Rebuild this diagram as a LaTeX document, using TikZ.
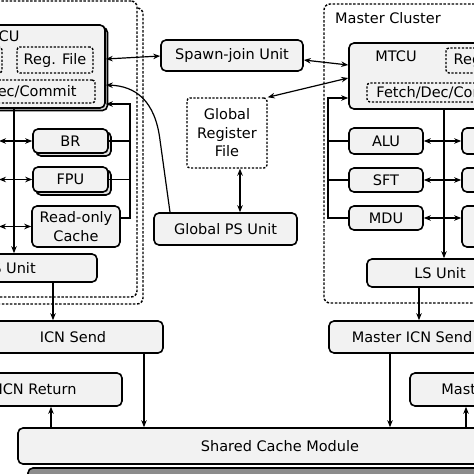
\documentclass[tikz,border=0pt]{standalone}
\usepackage{fontspec}
\setmainfont{DejaVu Sans}
\usetikzlibrary{arrows.meta,calc}
\tikzset{
 every node/.style={font=\fontsize{14.5}{18.5}\selectfont, inner sep=0pt},
 box/.style={draw=black, line width=1.6pt, rounded corners=5pt, fill=black!5, align=center},
 backbox/.style={draw=black, line width=1.6pt, rounded corners=5pt, fill=black!12},
 dbox/.style={draw=black, line width=1.4pt, dash pattern=on 2.2pt off 1.6pt, rounded corners=3pt, align=center},
 clus/.style={draw=black, line width=1.4pt, dash pattern=on 2.5pt off 1.6pt, rounded corners=6pt, fill=white},
 conn/.style={line width=1.2pt},
 arr/.style={conn, -{Stealth[length=7pt,width=5.5pt]}},
 darr/.style={conn, {Stealth[length=7pt,width=5.5pt]}-{Stealth[length=7pt,width=5.5pt]}},
}
\begin{document}
\begin{tikzpicture}[x=1pt,y=-1pt]
\useasboundingbox (0,0) rectangle (474,474);
\clip (0,0) rectangle (474,474);

% clusters
\node[clus, minimum width=287pt, minimum height=296pt] (lclustb) at (-0.5,156) {};
\node[clus, minimum width=287pt, minimum height=296pt] (lclust) at (-6.5,149) {};
\node[clus, minimum width=296pt, minimum height=299pt] (mclust) at (472,153.5) {};
\node[anchor=west] (mcl) at (335,18) {Master Cluster};

% left cluster
\node[backbox, minimum width=225pt, minimum height=83pt] (tcub) at (-5,69) {};
\node[box, minimum width=225pt, minimum height=83pt] (tcu) at (-7.5,66.5) {};
\node (tcul) at (5,36) {TCU};
\node[dbox, minimum width=42pt, minimum height=26pt] (pcb) at (-19,60) {};
\node[dbox, minimum width=76pt, minimum height=26pt] (rf) at (55,60) {Reg. File};
\node[dbox, minimum width=171pt, minimum height=23pt] (fdc) at (9.5,91.5) {Fetch/Dec/Commit};

\node[backbox, minimum width=75pt, minimum height=24pt] (brb) at (73.5,144) {};
\node[box, minimum width=75pt, minimum height=24pt] (br) at (70.5,141) {BR};
\node[backbox, minimum width=75pt, minimum height=25pt] (fpub) at (73.5,182.5) {};
\node[box, minimum width=75pt, minimum height=25pt] (fpu) at (70.5,179.5) {FPU};
\node[box, minimum width=88pt, minimum height=41pt] (roc) at (76,226.5) {Read-only\\Cache};
\node[box, minimum width=174pt, minimum height=28pt] (lsl) at (10,268) {LS Unit};

% middle
\node[box, minimum width=142pt, minimum height=31pt] (spawn) at (232,55.5) {Spawn-join Unit};
\node[dbox, fill=white, minimum width=80pt, minimum height=70pt] (grf) at (227,133) {Global\\Register\\File};
\node[box, minimum width=143pt, minimum height=32pt] (gps) at (225.5,229) {Global PS Unit};

% master cluster
\node[box, minimum width=251pt, minimum height=66pt] (mtcu) at (474.5,76) {};
\node (mtcul) at (396,56) {MTCU};
\node[dbox, minimum width=78pt, minimum height=25pt] (mrf) at (485,60.5) {Reg. File};
\node[dbox, minimum width=153pt, minimum height=19pt] (mfdc) at (443.5,92.5) {Fetch/Dec/Commit};
\node[box, minimum width=74pt, minimum height=26pt] (alu) at (386,141) {ALU};
\node[box, minimum width=74pt, minimum height=24pt] (sft) at (386,180) {SFT};
\node[box, minimum width=74pt, minimum height=24pt] (mdu) at (386,218) {MDU};
\node[box, minimum width=78pt, minimum height=26pt] (r1) at (501,141) {};
\node[box, minimum width=78pt, minimum height=24pt] (r2) at (501,180) {};
\node[box, minimum width=88pt, minimum height=41pt] (r3) at (506,226.5) {};
\node[box, minimum width=146pt, minimum height=28pt] (lsm) at (440,273) {LS Unit};

% bottom
\node[box, minimum width=180pt, minimum height=32pt] (icns) at (73,337) {ICN Send};
\node[box, minimum width=169pt, minimum height=33pt] (icnr) at (37.5,389.5) {ICN Return};
\node[box, minimum width=166pt, minimum height=32pt] (micns) at (412,337) {Master ICN Send};
\node[box, minimum width=195pt, minimum height=33pt] (micnr) at (507.5,389.5) {Master ICN Return};
\node[draw=black, line width=1.6pt, rounded corners=5pt, fill=black!45, minimum width=532pt, minimum height=32pt] (scmb) at (294,484) {};
\node[box, minimum width=524pt, minimum height=36pt] (scm) at (280,446) {Shared Cache Module};

% coordinates
\coordinate (lbus) at (130,104);
\coordinate (mbus) at (328,98);
\coordinate (lft) at (-1,0);

% connectors left cluster
\draw[darr] (tcu.east |- 0,59) -- (spawn.west |- 0,56);
\draw[darr] (spawn.east |- 0,60) -- (mtcu.west |- 0,65);
\draw[darr] (mtcu.west |- 0,78) -- (grf.north east);
\draw[darr] (grf.south -| 240,0) -- (gps.north -| 240,0);
\draw[arr] (gps.north -| 170,0) -- (160,140) .. controls (155,100) and (135,86) .. (tcu.east |- 0,85);

\draw[arr] (roc.east |- 0,218) -- (lbus |- 0,218) -- (lbus) -- (tcu.east |- lbus);
\draw[conn] (br.east) -- (br.east -| lbus);
\draw[conn] (fpu.east) -- (fpu.east -| lbus);
\draw[arr] (tcu.south -| 14,0) -- (lsl.north -| 14,0);
\draw[darr] (br.west -| lft) -- (br.west);
\draw[darr] (fpu.west -| lft) -- (fpu.west);
\draw[darr] (roc.west -| lft) -- (roc.west);

% master connectors
\draw[arr] (mdu.west) -- (mdu.west -| mbus) -- (mbus) -- (mtcu.west |- mbus);
\draw[conn] (alu.west) -- (alu.west -| mbus);
\draw[conn] (sft.west) -- (sft.west -| mbus);
\draw[arr] (mtcu.south -| 444,0) -- (lsm.north -| 444,0);
\draw[darr] (alu.east) -- (r1.west |- alu.east);
\draw[darr] (sft.east) -- (r2.west |- sft.east);
\draw[darr] (mdu.east) -- (r3.west |- mdu.east);

% bottom connectors
\draw[arr] (lsl.south -| 53,0) -- (icns.north -| 53,0);
\draw[arr] (lsm.south -| 419,0) -- (micns.north -| 419,0);
\draw[arr] (icns.south -| 144,0) -- (scm.north -| 144,0);
\draw[arr] (scm.north -| 51,0) -- (icnr.south -| 51,0);
\draw[arr] (micns.south -| 390,0) -- (scm.north -| 390,0);
\draw[arr] (scm.north -| 466,0) -- (micnr.south -| 466,0);
\end{tikzpicture}
\end{document}
